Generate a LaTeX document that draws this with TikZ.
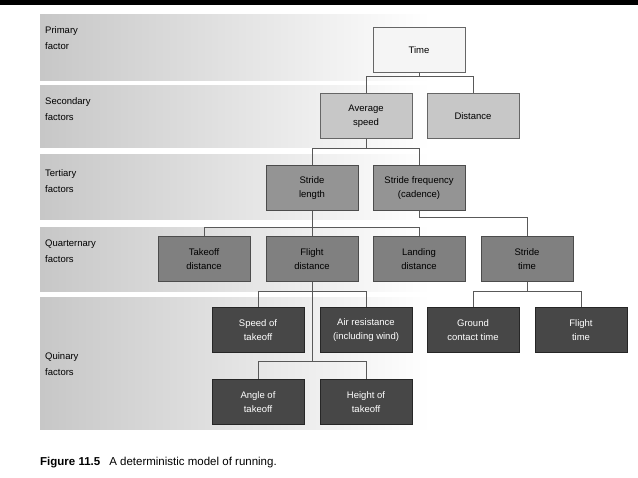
\documentclass[tikz,border=0pt]{standalone}
\usepackage{fontspec}
\setmainfont{Liberation Sans}
\usetikzlibrary{positioning}
\tikzstyle{band}=[left color=black!22, right color=white, draw=none]
\tikzstyle{lvl}=[anchor=north west, align=left, font=\fontsize{9.5}{16}\selectfont, inner sep=0pt]
\tikzstyle{box0}=[rectangle, draw=black!60, fill=black!4, minimum width=92pt, minimum height=45pt, align=center, font=\fontsize{9.5}{14}\selectfont, inner sep=1pt]
\tikzstyle{box1}=[box0, fill=black!22]
\tikzstyle{box2}=[box0, fill=black!42, draw=black!70]
\tikzstyle{box3}=[box0, fill=black!50, draw=black!70]
\tikzstyle{box4}=[box0, fill=black!72, draw=black!85, text=white]
\tikzstyle{link}=[draw=black!65, line width=0.8pt]

\begin{document}
\begin{tikzpicture}[x=1pt, y=-1pt]
\useasboundingbox (0,0) rectangle (638,478);
\fill[black] (0,0) rectangle (638,5);
% level bands
\shade[band] (40,15) rectangle (430,81);
\shade[band] (40,86) rectangle (430,148);
\shade[band] (40,155) rectangle (430,220);
\shade[band] (40,228) rectangle (430,292);
\shade[band] (40,298) rectangle (430,430);
\node[lvl] at (45,26) {Primary\\factor};
\node[lvl] at (45,97) {Secondary\\factors};
\node[lvl] at (45,169) {Tertiary\\factors};
\node[lvl] at (45,240) {Quarternary\\factors};
\node[lvl] at (45,352) {Quinary\\factors};
% boxes
\node[box0] (time) at (419,50) {Time};
\node[box1] (speed) at (366,116) {Average\\speed};
\node[box1] (dist) at (473,116) {Distance};
\node[box2] (slen) at (312,188) {Stride\\length};
\node[box2] (sfreq) at (419,188) {Stride frequency\\(cadence)};
\node[box3] (tod) at (204,259) {Takeoff\\distance};
\node[box3] (fld) at (312,259) {Flight\\distance};
\node[box3] (lad) at (419,259) {Landing\\distance};
\node[box3] (stime) at (527,259) {Stride\\time};
\node[box4] (sot) at (258,330) {Speed of\\takeoff};
\node[box4] (air) at (366,330) {Air resistance\\(including wind)};
\node[box4] (gct) at (473,330) {Ground\\contact time};
\node[box4] (ft) at (581,330) {Flight\\time};
\node[box4] (aot) at (258,402) {Angle of\\takeoff};
\node[box4] (hot) at (366,402) {Height of\\takeoff};
% connectors
\draw[link] (time.south) -- ++(0,4) -| (speed.north);
\draw[link] (time.south) -- ++(0,4) -| (dist.north);
\draw[link] (speed.south) -- ++(0,10) -| (slen.north);
\draw[link] (speed.south) -- ++(0,10) -| (sfreq.north);
\draw[link] (slen.south) -- ++(0,17) -| (tod.north);
\draw[link] (slen.south) -- (fld.north);
\draw[link] (slen.south) -- ++(0,17) -| (lad.north);
\draw[link] (sfreq.south) -- ++(0,7) -| (stime.north);
\draw[link] (fld.south) -- ++(0,10) -| (sot.north);
\draw[link] (fld.south) -- ++(0,10) -| (air.north);
\draw[link] (fld.south) -- ++(0,80) coordinate (fork);
\draw[link] (fork) -| (aot.north);
\draw[link] (fork) -| (hot.north);
\draw[link] (stime.south) -- ++(0,10) -| (gct.north);
\draw[link] (stime.south) -- ++(0,10) -| (ft.north);
% caption
\node[anchor=west, inner sep=0pt, font=\fontsize{11.5}{14}\selectfont] (cap) at (40,463) {\textbf{Figure 11.5}\hspace{9pt}A deterministic model of running.};
\end{tikzpicture}
\end{document}
